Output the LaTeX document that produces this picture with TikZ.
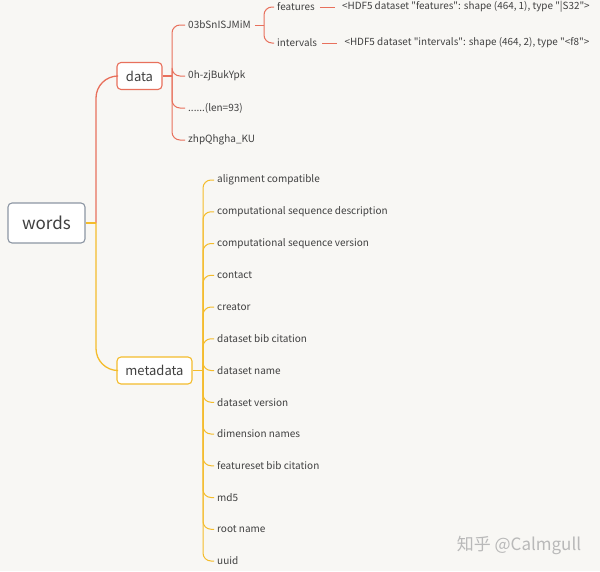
\documentclass[tikz,border=0pt]{standalone}
\usepackage{fontspec}
\setmainfont{Noto Sans CJK SC}[Ligatures=TeXOff]
\usetikzlibrary{positioning}
\definecolor{bgcol}{HTML}{F8F7F4}
\definecolor{redcol}{HTML}{E8705C}
\definecolor{yelcol}{HTML}{F4BC2C}
\definecolor{rootcol}{HTML}{8C96A3}
\definecolor{txtcol}{HTML}{404040}
\tikzset{
  topic/.style={draw,rounded corners=4pt,fill=white,text=txtcol,line width=1.1pt,inner sep=0pt},
  root/.style={topic,draw=rootcol,minimum width=77pt,minimum height=40pt,font=\fontsize{17}{20}\selectfont},
  branch/.style={topic,minimum height=27pt,font=\fontsize{13}{15}\selectfont},
  leaf/.style={anchor=west,inner sep=1pt,text=txtcol,font=\fontsize{10}{12}\selectfont},
  info/.style={anchor=west,inner sep=1pt,text=txtcol,font=\fontsize{9.9}{11}\selectfont},
  link/.style={line width=#1},
  link/.default=1.3pt,
  twig/.style={line width=1pt,rounded corners=8pt,shorten >=2pt}
}
\begin{document}
\begin{tikzpicture}[x=1pt,y=-1pt]
  \useasboundingbox[fill=bgcol] (0,0) rectangle (600,571);
  % main topics
  \node[root] (words) at (46.5,223) {words};
  \node[branch,draw=redcol,minimum width=45pt] (data) at (139.5,76) {data};
  \node[branch,draw=yelcol,minimum width=75pt] (meta) at (154.5,370.5) {metadata};
  \coordinate (jw) at (96,223);
  \draw[redcol,link,rounded corners=22pt] (jw) |- (data.west);
  \draw[yelcol,link,rounded corners=22pt] (jw) |- (meta.west);
  \draw[yelcol,link] (words.east) -- (jw);
  % data
  \node[leaf] (d0) at (187,25) {03bSnISJMiM};
  \node[leaf] (d1) at (187,76) {0h-zjBukYpk};
  \node[leaf] (d2) at (187,108) {......(len=93)};
  \node[leaf] (d3) at (187,140) {zhpQhgha\_KU};
  \coordinate (jd) at (172,76);
  \draw[redcol,link] (data.east) -- (jd);
  \foreach \d in {d0,d1,d2,d3}
    \draw[redcol,twig] (jd) |- (\d.west);
  % 03bSnISJMiM
  \node[info] (f0) at (276,7) {features};
  \node[info] (h0) [right=25pt of f0] {<HDF5 dataset "features": shape (464, 1), type "|S32">};
  \node[info] (f1) at (276,43) {intervals};
  \node[info] (h1) [right=25pt of f1] {<HDF5 dataset "intervals": shape (464, 2), type "<f8">};
  \coordinate (js) at (264,25);
  \draw[redcol,link=1pt,shorten <=3pt] (d0.east) -- (js);
  \draw[redcol,twig] (js) |- (f0.west);
  \draw[redcol,twig] (js) |- (f1.west);
  \draw[redcol,link=1pt,shorten <=4pt,shorten >=6pt] (f0.east) -- (h0.west);
  \draw[redcol,link=1pt,shorten <=4pt,shorten >=6pt] (f1.east) -- (h1.west);
  % metadata
  \coordinate (jm) at (203,370.5);
  \draw[yelcol,link] (meta.east) -- (jm);
  \foreach \lbl [count=\i from 0] in {alignment compatible,computational sequence description,
      computational sequence version,contact,creator,dataset bib citation,dataset name,
      dataset version,dimension names,featureset bib citation,md5,root name,uuid}{
    \node[leaf] (m\i) at (216,{180+31.75*\i}) {\lbl};
    \draw[yelcol,twig] (jm) |- (m\i.west);
  }
  \node[text=gray!55,font=\fontsize{17}{20}\selectfont] (wm) at (519,545) {知乎 @Calmgull};
\end{tikzpicture}
\end{document}
